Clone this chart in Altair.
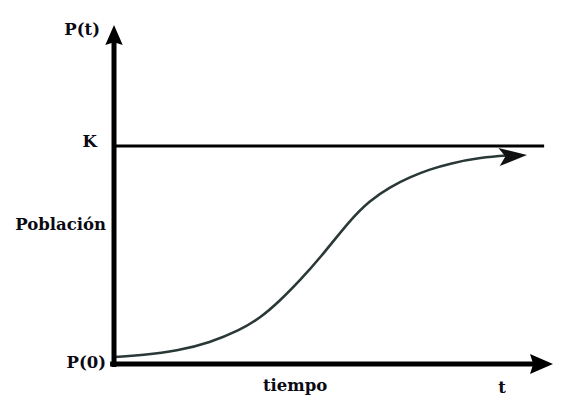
import altair as alt
import pandas as pd

# ---- data (t in time units 0..100, P with K = 100) ----
curve_t = [0, 6.6, 14.4, 21.9, 28.8, 33.3, 37.9, 42.5, 47.0, 53.9,
           58.4, 63.0, 67.6, 72.1, 76.7, 83.6, 90.9]
curve_p = [3.2, 4.1, 6.0, 9.8, 15.6, 21.0, 29.0, 38.5, 48.5, 66.1,
           75.0, 81.2, 85.8, 89.3, 92.0, 94.8, 95.8]
K_value = 100
K_line_end = 98.2

left_labels = ["P(t)", "K", "Población", "P(0)"]
left_label_t = [-3.2, -3.9, -1.8, -1.8]
left_label_p = [150.9, 99.5, 61.5, -1.8]

bottom_labels = ["tiempo", "t"]
bottom_label_t = [34.0, 87.7]
bottom_label_p = [-12.4, -13.1]

# ---- scales ----
xs = alt.Scale(domain=[-26.03, 103.65], nice=False, zero=False)
ys = alt.Scale(domain=[-19.27, 166.97], nice=False, zero=False)

curve_df = pd.DataFrame({"t": curve_t, "P": curve_p})
left_df = pd.DataFrame({"label": left_labels, "t": left_label_t, "P": left_label_p})
bottom_df = pd.DataFrame({"label": bottom_labels, "t": bottom_label_t, "P": bottom_label_p})

axis_v = pd.DataFrame({"t": [0], "P": [-1.4], "P2": [147.9]})
axis_h = pd.DataFrame({"t": [-0.9], "t2": [96.1], "P": [0]})
k_df = pd.DataFrame({"t": [0], "t2": [K_line_end], "P": [K_value]})

arrow_up = pd.DataFrame({"t": [0], "P": [150.9]})
arrow_right = pd.DataFrame({"t": [97.6], "P": [0]})
arrow_curve = pd.DataFrame({"t": [91.1], "P": [95.4]})

axis_arrow_shape = "M1,0 L-1,-0.87 L-0.72,0 L-1,0.87 Z"
curve_arrow_shape = "M1,0 L-1,-0.65 L-0.55,0 L-1,0.65 Z"

FONT = "DejaVu Serif"

X = lambda f="t": alt.X(f"{f}:Q", scale=xs, axis=None)
Y = lambda f="P": alt.Y(f"{f}:Q", scale=ys, axis=None)

curve = alt.Chart(curve_df).mark_line(
    color="#2b3838", strokeWidth=2.6, interpolate="basis"
).encode(x=X(), y=Y())

k_line = alt.Chart(k_df).mark_rule(color="black", strokeWidth=3).encode(
    x=X(), x2="t2:Q", y=Y()
)

v_axis = alt.Chart(axis_v).mark_rule(color="black", strokeWidth=5).encode(
    x=X(), y=Y(), y2="P2:Q"
)
h_axis = alt.Chart(axis_h).mark_rule(color="black", strokeWidth=5).encode(
    x=X(), x2="t2:Q", y=Y()
)

up_head = alt.Chart(arrow_up).mark_point(
    shape=axis_arrow_shape, filled=True, fill="black", opacity=1,
    strokeWidth=0, size=400, angle=270
).encode(x=X(), y=Y())

right_head = alt.Chart(arrow_right).mark_point(
    shape=axis_arrow_shape, filled=True, fill="black", opacity=1,
    strokeWidth=0, size=529, angle=0
).encode(x=X(), y=Y())

curve_head = alt.Chart(arrow_curve).mark_point(
    shape=curve_arrow_shape, filled=True, fill="#111", opacity=1,
    strokeWidth=0, size=784, angle=356
).encode(x=X(), y=Y())

left_text = alt.Chart(left_df).mark_text(
    font=FONT, fontWeight="bold", fontSize=16.5,
    align="right", baseline="alphabetic", color="#0a0a14"
).encode(x=X(), y=Y(), text="label:N")

bottom_text = alt.Chart(bottom_df).mark_text(
    font=FONT, fontWeight="bold", fontSize=16.5,
    align="left", baseline="alphabetic", color="#0a0a14"
).encode(x=X(), y=Y(), text="label:N")

chart = alt.layer(
    k_line, curve, curve_head, v_axis, h_axis, up_head, right_head,
    left_text, bottom_text
).properties(
    width=568, height=406, padding=0,
    autosize=alt.AutoSizeParams(type="none"),
    background="white"
).configure_view(stroke=None)

chart.save("out.html", embed_options={"renderer": "svg", "actions": False})
